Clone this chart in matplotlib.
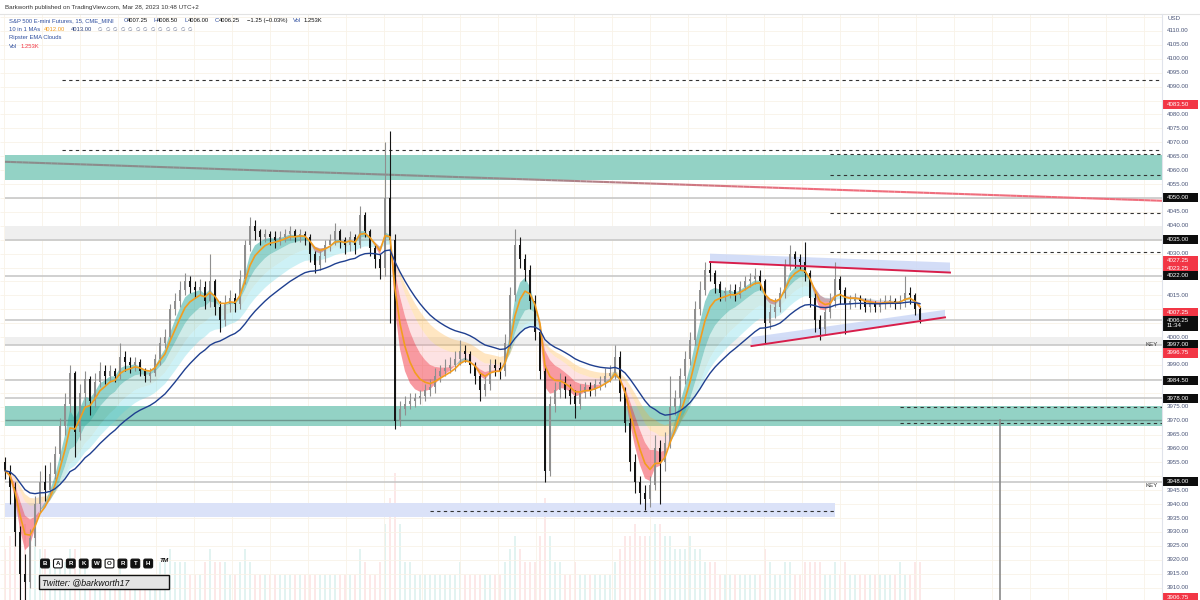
import numpy as np
import pandas as pd
import matplotlib.pyplot as plt
from matplotlib.collections import LineCollection
from matplotlib.patches import Rectangle, Polygon, FancyBboxPatch
from matplotlib.transforms import blended_transform_factory
from matplotlib.colors import to_rgb

plt.rcParams['font.family'] = ['Liberation Sans', 'DejaVu Sans']

# 15m ES candles (one entry per drawn candle)
first_open = 3955
closes = [
    3952, 3946, 3930, 3915, 3912, 3928, 3940, 3948, 3945, 3951,
    3958, 3968, 3976, 3987, 3966, 3980, 3985, 3977, 3984, 3988,
    3986, 3988, 3986, 3993, 3991, 3990, 3991, 3988, 3986, 3987,
    3992, 3998, 4000, 4010, 4013, 4017, 4020, 4018, 4017, 4018,
    4013, 4020, 4011, 4006, 4012, 4014, 4012, 4021, 4033, 4040,
    4038, 4036, 4037, 4036, 4035, 4036, 4037, 4038, 4036, 4037,
    4036, 4030, 4026, 4029, 4033, 4035, 4038, 4035, 4033, 4036,
    4033, 4044, 4038, 4032, 4028, 4025, 4050, 4035, 3970, 3974,
    3976, 3977, 3978, 3979, 3981, 3982, 3986, 3988, 3989, 3990,
    3992, 3995, 3994, 3990, 3986, 3981, 3983, 3990, 3989, 3988,
    3998, 4015, 4033,
    4028, 4024, 4013, 4002, 3988, 3952, 3976, 3981, 3984, 3981,
    3979, 3976, 3980, 3982, 3981, 3983, 3984, 3986, 3987, 3993,
    3980,
    3969, 3955, 3948, 3944, 3942, 3947, 3960, 3955, 3962, 3975,
    3978, 3986, 3992, 3999, 4010, 4017, 4024, 4023, 4019,
    4016, 4016, 4017, 4015, 4018, 4020, 4021, 4022, 4020, 4005,
    4009, 4011, 4016, 4026, 4030, 4028, 4027, 4023, 4014, 4006,
    4003, 4009, 4013, 4021, 4017, 4012, 4013, 4014, 4013, 4011,
    4012, 4011, 4012, 4013, 4013, 4012, 4013, 4016, 4015, 4010,
    4006.25,
]
highs = [
    3957, 3954, 3948, 3932, 3922, 3931, 3943, 3952, 3954, 3955,
    3961, 3971, 3980, 3990, 3988, 3983, 3988, 3986, 3987, 3991,
    3990, 3990, 3989, 3998, 3995, 3993, 3993, 3992, 3989, 3989,
    3994, 4000, 4003, 4012, 4016, 4020, 4023, 4022, 4020, 4021,
    4020, 4030, 4021, 4013, 4015, 4017, 4016, 4024, 4035, 4043,
    4042, 4039, 4039, 4038, 4038, 4038, 4039, 4040, 4039, 4039,
    4038, 4037, 4031, 4031, 4035, 4037, 4041, 4039, 4036, 4038,
    4037, 4047, 4045, 4039, 4033, 4030, 4070, 4074, 4037, 3977,
    3979, 3980, 3980, 3981, 3983, 3985, 3989, 3990, 3992, 3993,
    3995, 3999, 3997, 3995, 3991, 3987, 3986, 3992, 3992, 3991,
    4001, 4018, 4039,
    4036, 4030, 4026, 4015, 4004, 3990, 3979, 3984, 3987, 3986,
    3983, 3981, 3983, 3984, 3984, 3985, 3986, 3989, 3990, 3997,
    3995,
    3982, 3971, 3958, 3950, 3947, 3950, 3965, 3963, 3966, 3986,
    3981, 3989, 3995, 4002, 4013, 4020, 4027, 4027, 4024,
    4020, 4018, 4019, 4019, 4020, 4022, 4023, 4025, 4024, 4021,
    4012, 4014, 4018, 4028, 4033, 4031, 4030, 4034, 4024, 4016,
    4008, 4011, 4016, 4027, 4022, 4018, 4015, 4016, 4015, 4014,
    4014, 4013, 4014, 4015, 4015, 4014, 4015, 4022, 4018, 4016,
    4011,
]
lows = [
    3949, 3940, 3925, 3903, 3903, 3910, 3925, 3937, 3941, 3943,
    3949, 3956, 3965, 3973, 3957, 3963, 3975, 3972, 3975, 3982,
    3983, 3984, 3984, 3985, 3988, 3987, 3988, 3986, 3984, 3984,
    3986, 3990, 3996, 3999, 4008, 4011, 4015, 4016, 4014, 4015,
    4010, 4011, 4008, 4002, 4004, 4009, 4009, 4010, 4019, 4031,
    4035, 4033, 4034, 4033, 4032, 4033, 4034, 4035, 4034, 4034,
    4033, 4027, 4023, 4024, 4027, 4031, 4033, 4032, 4030, 4031,
    4030, 4032, 4036, 4029, 4025, 4021, 4022, 4005, 3967, 3968,
    3972, 3974, 3975, 3976, 3977, 3979, 3980, 3984, 3986, 3987,
    3988, 3990, 3991, 3987, 3983, 3977, 3979, 3981, 3986, 3985,
    3986, 3996, 4013,
    4025, 4020, 4010, 3999, 3985, 3948, 3950, 3973, 3978, 3978,
    3976, 3971, 3974, 3978, 3979, 3979, 3981, 3982, 3984, 3985,
    3977,
    3966, 3952, 3944, 3940, 3938, 3939, 3945, 3940, 3952, 3960,
    3972, 3975, 3983, 3990, 3997, 4008, 4015, 4020, 4016,
    4013, 4013, 4014, 4013, 4014, 4017, 4018, 4019, 4017, 3998,
    4003, 4007, 4009, 4014, 4024, 4025, 4024, 4020, 4011, 4002,
    3999, 4001, 4007, 4011, 4012, 4001, 4010, 4011, 4010, 4009,
    4009, 4009, 4009, 4010, 4011, 4010, 4010, 4011, 4012, 4008,
    4005,
]
volumes = [
    4, 5, 6, 7, 6,
    5, 5, 4, 4, 3, 3, 3, 3, 4, 4,
    3, 3, 2, 2, 2, 2, 2, 2, 3, 2, 2, 2, 2, 2, 2,
    2, 3, 3, 4, 3, 3, 3, 2, 2, 2, 3,
    4, 3, 3, 3, 2, 2, 3, 4, 3, 2, 2, 2, 2, 2, 2, 2, 2, 2, 2,
    2, 2, 2, 2, 2, 2, 2, 2, 2, 2, 2, 4, 3, 2, 2, 3,
    6, 8, 10, 6,
    3, 3, 2, 2, 2, 2, 2, 2, 2, 2, 2, 3, 2, 2, 2, 2, 2, 2, 2, 2, 3,
    4, 5, 4, 3, 3, 3, 5,
    8,
    5, 3, 3, 2, 2, 3, 2, 2, 2, 2, 2, 2, 2, 3, 4,
    5, 5, 6, 5, 5, 5, 6, 6, 5, 5, 4, 4, 4, 5, 4, 4, 3, 3, 3,
    2, 2, 2, 2, 2, 2, 2, 2, 2, 4, 3, 2, 2, 3, 3, 2, 2, 3, 3, 3,
    3, 2, 2, 3, 2, 3, 2, 2, 2, 2, 2, 2, 2, 2, 2, 2, 3, 2, 2, 3, 3,
]

# drawn levels
solid_levels = [4050, 4035, 4022, 4006.25, 3997, 3984.5, 3978, 3948]
gray_zones = [(4035, 4040), (3997, 4000)]
teal_zones = [(4056.5, 4065.4), (3968.1, 3975.3)]
blue_zone = (3935.4, 3940.4)
dashed_levels = [4092.4, 4067.4, 4065.7, 4058.2, 4044.6, 4030.7, 3975.0, 3969.0, 3937.4]
dashed_from = [11.4, 11.4, 165, 165, 165, 165, 179, 179, 85]
dashed_to = [231.4, 231.4, 231.4, 231.4, 231.4, 231.4, 231.4, 231.4, 166]

# right-axis price tags
tag_texts = ['4083.50', '4050.00', '4035.00', '4027.25', '4023.25', '4022.00', '4007.25',
             '4006.25\n11:34', '3997.00', '3996.75', '3984.50', '3978.00', '3948.00', '3906.75']
tag_y = [4083.5, 4050.0, 4035.0, 4027.4, 4024.8, 4022.0, 4008.9,
         4004.9, 3997.2, 3994.3, 3984.5, 3978.0, 3948.0, 3906.4]
tag_red = [True, False, False, True, True, False, True,
           False, False, True, False, False, False, True]

closes = np.array(closes, dtype=float)
opens = np.r_[first_open, closes[:-1]]
highs = np.array(highs, dtype=float)
lows = np.array(lows, dtype=float)
idx = np.arange(len(closes))

s = pd.Series(closes)
ema = lambda n: s.ewm(span=n, adjust=False).mean().values

fig = plt.figure(figsize=(12, 6), dpi=100)
fig.patch.set_facecolor('white')
rect = [0, 0, 1162 / 1200, 586 / 600]
ax_v = fig.add_axes(rect)
ax = fig.add_axes(rect)
ax.patch.set_alpha(0)
for a in (ax, ax_v):
    a.set_xlim(-1, 231.4)
    a.set_xticks([])
    a.set_yticks([])
    for sp in a.spines.values():
        sp.set_visible(False)
ax.set_ylim(3905.55, 4116.1)
ax_v.set_ylim(0, 46)

# faint grid
ax.hlines(np.arange(3910, 4116, 5), -1, 231.4, color='#f9f2e8', lw=0.6, zorder=0)
ax.vlines(np.arange(-0.2, 231, 7.6), 3905, 4117, color='#f9f2e8', lw=0.6, zorder=0)

# volume
up = closes >= opens
vcol = np.where(up, '#26a69a', '#ef5350')
ax_v.bar(idx, volumes, width=0.45, color=vcol, alpha=0.13, lw=0)

# zones
for lo, hi in gray_zones:
    ax.fill_between([0, 231.4], lo, hi, color='#efefef', lw=0, zorder=1)
for lo, hi in teal_zones:
    ax.fill_between([0, 231.4], lo, hi, color='#93d2c5', lw=0, zorder=1)
ax.fill_between([0, 166], blue_zone[0], blue_zone[1], color='#dbe2f8', lw=0, zorder=1)
ax.hlines(solid_levels, 0, 231.4, color='#c4c4c4', lw=1.1, zorder=2)
ax.hlines(3970.4, 0, 231.4, color='#6f9890', lw=1.0, zorder=2)
for p, x0, x1 in zip(dashed_levels, dashed_from, dashed_to):
    ax.plot([x0, x1], [p, p], color='#333333', lw=0.8, ls=(0, (3, 3)), zorder=2)
ax.plot([199, 199], [3970.4, 3900], color='#8a8a8a', lw=1.2, zorder=2)

# long trendline: gray fading to red
tx = np.linspace(0, 231.4, 200)
ty = 4063.0 + (4049.0 - 4063.0) * tx / 231.4
t = np.clip((tx - 90) / 70, 0, 1)[:-1]
g, r = np.array(to_rgb('#8c8c8c')), np.array(to_rgb('#ef6d7c'))
segs = np.stack([np.c_[tx[:-1], ty[:-1]], np.c_[tx[1:], ty[1:]]], axis=1)
ax.add_collection(LineCollection(segs, colors=g * (1 - t[:, None]) + r * t[:, None], lw=1.5, zorder=2))

# Ripster EMA clouds
def cloud(a, b, c_up, c_dn, alpha):
    ax.fill_between(idx, a, b, where=a >= b, interpolate=True, color=c_up, alpha=alpha, lw=0, zorder=3)
    ax.fill_between(idx, a, b, where=a < b, interpolate=True, color=c_dn, alpha=alpha, lw=0, zorder=3)

e4, e10, e16, e22 = ema(4), ema(10), ema(16), ema(22)
cloud(e4, e10, '#26a69a', '#f23645', 0.5)
cloud(e10, e16, '#26a69a', '#f77c80', 0.22)
cloud(e16, e22, '#4dd0e1', '#ffa726', 0.28)

# candles
ccol = np.where(up, '#8f8f8f', '#151515')
ax.vlines(idx, lows, highs, color=ccol, lw=0.8, zorder=5)
body_lo = np.minimum(opens, closes)
body_h = np.maximum(np.abs(closes - opens), 0.4)
ax.bar(idx, body_h, bottom=body_lo, width=0.55, color=ccol, lw=0, zorder=5)

ax.plot(idx, ema(6), color='#f29d1f', lw=1.2, zorder=6)
ax.plot(idx, ema(28), color='#1f3f8f', lw=1.0, zorder=6)

# triangle
ax.add_patch(Polygon([[141, 4027.0], [189, 4023.2], [189, 4026.8], [141, 4030.0]],
                     closed=True, fc='#c9d5f6', ec='none', alpha=0.8, zorder=4))
ax.add_patch(Polygon([[149.3, 3996.8], [188, 4007.1], [188, 4009.8], [149.3, 4000.0]],
                     closed=True, fc='#c9d5f6', ec='none', alpha=0.8, zorder=4))
ax.plot([141, 189], [4027.0, 4023.2], color='#d81e4b', lw=1.4, zorder=7)
ax.plot([149.3, 188], [3996.8, 4007.1], color='#d81e4b', lw=1.4, zorder=7)

# price scale (labels under a tag are hidden, as TradingView does)
tr = blended_transform_factory(ax.transAxes, ax.transData)
for p in np.arange(3910, 4111, 5):
    if min(abs(p - ty_) for ty_ in tag_y) < 2.5:
        continue
    ax.text(1.0043, p, f'{p:.2f}', transform=tr, fontsize=4.4, color='#4a5578',
            va='center', ha='left', clip_on=False)
for txt, yp, red in zip(tag_texts, tag_y, tag_red):
    h = 5.4 if '\n' in txt else 3.25
    ax.add_patch(Rectangle((1.0009, yp - h / 2), 0.0301, h, transform=tr,
                           fc='#f23645' if red else '#0d0d0d', ec='none', clip_on=False, zorder=20))
    ax.text(1.0043, yp, txt, transform=tr, fontsize=4.4, color='white', va='center',
            ha='left', linespacing=1.0, clip_on=False, zorder=21)
ax.text(0.9965, 3997.5, 'KEY', transform=tr, fontsize=4.4, color='#333333', ha='right', va='center')
ax.text(0.9965, 3946.6, 'KEY', transform=tr, fontsize=4.4, color='#333333', ha='right', va='center')

# overlay in pixel coordinates for header, legend and logo
ov = fig.add_axes([0, 0, 1, 1])
ov.set_xlim(0, 1200)
ov.set_ylim(600, 0)
ov.axis('off')
ov.patch.set_alpha(0)
ov.plot([0, 1200], [14, 14], color='#e3e3e3', lw=0.8)
ov.plot([1162, 1162], [14, 600], color='#e0e3eb', lw=0.8)
ov.text(1167, 19, 'USD', fontsize=4.4, color='#4a5578', va='center')

blue = '#2f4f9f'
fs = 4.25
ov.text(5, 7, 'Barkworth published on TradingView.com, Mar 28, 2023 10:48 UTC+2',
        fontsize=4.5, color='#333333', va='center')
ov.text(8.7, 20.7, 'S&P 500 E-mini Futures, 15, CME_MINI', fontsize=fs, color=blue, va='center')
for lx, lab, vx, val in [(123.5, 'O', 127, '4007.25'), (153.5, 'H', 157, '4008.50'),
                         (184.5, 'L', 187.5, '4006.00'), (215, 'C', 219, '4006.25')]:
    ov.text(lx, 20.7, lab, fontsize=fs, color=blue, va='center')
    ov.text(vx, 20.7, val, fontsize=fs, color='#111111', va='center')
ov.text(247, 20.7, '\u22121.25 (\u22120.03%)', fontsize=fs, color='#111111', va='center')
ov.text(293.3, 20.7, 'Vol', fontsize=fs, color=blue, va='center')
ov.text(303.3, 20.7, '1.253K', fontsize=fs, color='#111111', va='center')
ov.text(9, 29.3, '10 in 1 MAs', fontsize=fs, color=blue, va='center')
ov.text(44, 29.3, '4012.00', fontsize=fs, color='#f29d1f', va='center')
ov.text(71, 29.3, '4013.00', fontsize=fs, color='#2a3f7a', va='center')
for k in range(13):
    ov.text(98 + 7.5 * k, 29.3, '\u2205', fontsize=3.8, color='#6a7390', va='center',
            family=['DejaVu Sans'])
ov.text(9, 37.7, 'Ripster EMA Clouds', fontsize=fs, color=blue, va='center')
ov.text(9, 46, 'Vol', fontsize=fs, color=blue, va='center')
ov.text(21, 46, '1.253K', fontsize=fs, color='#f23645', va='center')

# logo
for k, ch in enumerate('BARKWORTH'):
    cx = 45 + 12.9 * k
    light = ch == 'A' or (ch == 'O' and k == 5)
    ov.add_patch(FancyBboxPatch((cx - 4.0, 559.5), 8.0, 8.0,
                                boxstyle='round,pad=0.4,rounding_size=1.5',
                                fc='white' if light else '#111111', ec='#111111', lw=0.8))
    ov.text(cx, 563.8, ch, fontsize=4.4, fontweight='bold', ha='center', va='center',
            color='#111111' if light else 'white')
ov.text(160, 560, 'TM', fontsize=4.6, fontstyle='italic', fontweight='bold', color='#111111', va='center')
ov.add_patch(Rectangle((39, 575), 130, 14, fc='#e4e4e4', ec='#111111', lw=1.0))
ov.text(42, 582.3, 'Twitter: @barkworth17', fontsize=6.3, fontstyle='italic', color='#111111', va='center')

fig.savefig('out.png', dpi=100)
